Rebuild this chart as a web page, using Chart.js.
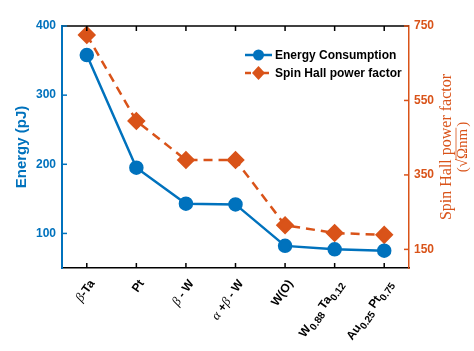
<!DOCTYPE html>
<html><head><meta charset="utf-8">
<script src="https://cdn.jsdelivr.net/npm/chart.js@4.4.1/dist/chart.umd.min.js"></script>
<style>html,body{margin:0;padding:0;background:#fff}#wrap{width:474px;height:351px}</style>
</head><body><div id="wrap"><canvas id="c" width="474" height="351"></canvas></div>
<script>
const categories = ["β-Ta", "Pt", "β - W", "α +β - W", "W(O)", "W_{0.88} Ta_{0.12}", "Au_{0.25} Pt_{0.75}"];
const energy = [358, 195, 143, 142, 82, 77, 75];
const spinHall = [726, 495, 390, 390, 215, 194, 189];
const energyTicks = [100, 200, 300, 400];
const spinTicks = [150, 350, 550, 750];
const seriesNames = ["Energy Consumption", "Spin Hall power factor"];
const leftTitle = "Energy (pJ)";
const rightTitle = ["Spin Hall power factor", "(√", "Ωnm", ")"];

const BLUE = "#0072BD", ORANGE = "#D95319";
const SANS = "'Liberation Sans', Arial, sans-serif";
const SERIF = "'Liberation Serif', 'DejaVu Serif', serif";

function parseLabel(s) {
  const parts = [];
  const re = /_\{([^}]*)\}|([αβ])|([^_αβ]+)/g;
  let m;
  while ((m = re.exec(s))) {
    if (m[1] !== undefined) parts.push({t: m[1], sub: true});
    else if (m[2] !== undefined) parts.push({t: m[2], greek: true});
    else parts.push({t: m[3]});
  }
  return parts;
}
function partFont(p) {
  if (p.greek) return "italic 13px " + SERIF;
  if (p.sub) return "bold 10px " + SANS;
  return "bold 12px " + SANS;
}

const decor = {
  id: "decor",
  afterDraw(chart) {
    const ctx = chart.ctx, a = chart.chartArea;
    const xs = chart.scales.x, yl = chart.scales.y, yr = chart.scales.y2;
    ctx.save();
    // top border
    ctx.strokeStyle = "#000"; ctx.lineWidth = 1.5;
    ctx.beginPath(); ctx.moveTo(a.left, a.top); ctx.lineTo(a.right, a.top); ctx.stroke();
    categories.forEach((c, i) => {
      const x = xs.getPixelForValue(i);
      ctx.beginPath();
      ctx.moveTo(x, a.top); ctx.lineTo(x, a.top + 5);
      ctx.moveTo(x, a.bottom); ctx.lineTo(x, a.bottom - 5);
      ctx.stroke();
    });
    ctx.strokeStyle = BLUE;
    energyTicks.forEach(v => {
      const y = yl.getPixelForValue(v);
      ctx.beginPath(); ctx.moveTo(a.left, y); ctx.lineTo(a.left + 5, y); ctx.stroke();
    });
    ctx.strokeStyle = ORANGE;
    spinTicks.forEach(v => {
      const y = yr.getPixelForValue(v);
      ctx.beginPath(); ctx.moveTo(a.right, y); ctx.lineTo(a.right - 5, y); ctx.stroke();
    });
    // x labels
    categories.forEach((c, i) => {
      const x = xs.getPixelForValue(i);
      const parts = parseLabel(c);
      let w = 0;
      parts.forEach(p => { ctx.font = partFont(p); p.w = ctx.measureText(p.t).width; w += p.w; });
      ctx.save();
      ctx.translate(x + 5, a.bottom + 13);
      ctx.rotate(-55 * Math.PI / 180);
      ctx.fillStyle = "#000";
      ctx.textBaseline = "alphabetic";
      ctx.textAlign = "left";
      let cx = -w;
      parts.forEach(p => {
        ctx.font = partFont(p);
        ctx.fillText(p.t, cx, p.sub ? 8 : 4);
        cx += p.w;
      });
      ctx.restore();
    });
    // left title
    ctx.save();
    ctx.translate(22, (a.top + a.bottom) / 2);
    ctx.rotate(-Math.PI / 2);
    ctx.font = "bold 15px " + SANS; ctx.fillStyle = BLUE;
    ctx.textAlign = "center"; ctx.textBaseline = "middle";
    ctx.fillText(leftTitle, 0, 0);
    ctx.restore();
    // right title
    ctx.save();
    ctx.translate(447, (a.top + a.bottom) / 2);
    ctx.rotate(-Math.PI / 2);
    ctx.fillStyle = ORANGE; ctx.strokeStyle = ORANGE;
    ctx.font = "16px " + SERIF; ctx.textAlign = "center"; ctx.textBaseline = "middle";
    ctx.fillText(rightTitle[0], 0, 0);
    ctx.textAlign = "left"; ctx.textBaseline = "middle";
    ctx.font = "15px " + SERIF;
    const w1 = ctx.measureText(rightTitle[1]).width;
    const w2 = ctx.measureText(rightTitle[2]).width;
    const w3 = ctx.measureText(rightTitle[3]).width;
    const tot = w1 + w2 + w3 + 2;
    let sx = -tot / 2;
    const ly = 16;
    ctx.fillText(rightTitle[1], sx, ly); sx += w1;
    ctx.fillText(rightTitle[2], sx, ly);
    ctx.lineWidth = 0.8;
    ctx.beginPath(); ctx.moveTo(sx - 1, ly - 7); ctx.lineTo(sx + w2 + 1, ly - 7); ctx.stroke();
    sx += w2 + 2;
    ctx.fillText(rightTitle[3], sx, ly);
    ctx.restore();
    // legend
    const rows = [
      {name: seriesNames[0], color: BLUE, dash: [], style: "circle"},
      {name: seriesNames[1], color: ORANGE, dash: [6, 3], style: "diamond"}
    ];
    rows.forEach((r, k) => {
      const y = 55 + k * 18;
      ctx.strokeStyle = r.color; ctx.lineWidth = 2.5; ctx.setLineDash(r.dash);
      ctx.beginPath(); ctx.moveTo(245, y); ctx.lineTo(272, y); ctx.stroke();
      ctx.setLineDash([]);
      ctx.fillStyle = r.color;
      ctx.beginPath();
      if (r.style === "circle") ctx.arc(258.5, y, 5.5, 0, Math.PI * 2);
      else { ctx.moveTo(258.5, y - 7); ctx.lineTo(265, y); ctx.lineTo(258.5, y + 7); ctx.lineTo(252, y); ctx.closePath(); }
      ctx.fill();
      ctx.fillStyle = "#000"; ctx.font = "bold 12px " + SANS;
      ctx.textAlign = "left"; ctx.textBaseline = "middle";
      ctx.fillText(r.name, 275, y + 1);
    });
    ctx.restore();
  }
};

new Chart(document.getElementById("c"), {
  type: "line",
  data: {
    labels: categories,
    datasets: [
      {label: seriesNames[0], data: energy, yAxisID: "y", borderColor: BLUE, backgroundColor: BLUE,
       borderWidth: 2.5, pointRadius: 6, pointHoverRadius: 6, pointStyle: "circle", tension: 0},
      {label: seriesNames[1], data: spinHall, yAxisID: "y2", borderColor: ORANGE, backgroundColor: ORANGE,
       borderWidth: 2.5, borderDash: [9, 6], pointRadius: 7.5, pointHoverRadius: 7.5, pointStyle: "rectRot", tension: 0}
    ]
  },
  options: {
    responsive: false, animation: false, devicePixelRatio: 1,
    layout: {padding: {top: 26, left: 0, right: 0, bottom: 0}},
    plugins: {legend: {display: false}, tooltip: {enabled: false}},
    scales: {
      x: {
        offset: true,
        grid: {display: false, drawTicks: false},
        border: {display: true, color: "#000", width: 1.5},
        ticks: {display: false},
        afterFit(s) { s.height = 83; }
      },
      y: {
        position: "left", min: 50, max: 400,
        afterBuildTicks(s) { s.ticks = energyTicks.map(v => ({value: v})); },
        grid: {display: false, drawTicks: false},
        border: {display: true, color: BLUE, width: 2},
        ticks: {color: BLUE, font: {family: SANS, weight: "bold", size: 12}, padding: 6},
        afterFit(s) { s.width = 62; }
      },
      y2: {
        position: "right", min: 100, max: 750,
        afterBuildTicks(s) { s.ticks = spinTicks.map(v => ({value: v})); },
        grid: {display: false, drawTicks: false},
        border: {display: true, color: ORANGE, width: 1.5},
        ticks: {color: ORANGE, font: {family: SANS, weight: "bold", size: 12}, padding: 5},
        afterFit(s) { s.width = 65; }
      }
    }
  },
  plugins: [decor]
});
</script></body></html>
